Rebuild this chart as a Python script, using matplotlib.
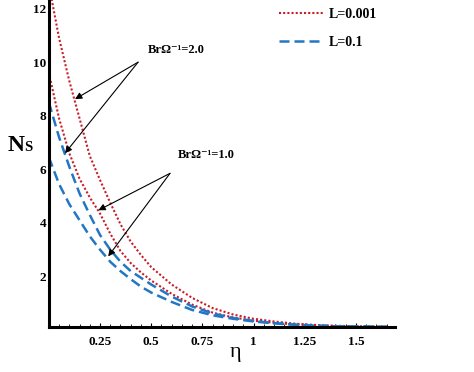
import numpy as np
from matplotlib import pyplot as plt
from matplotlib.ticker import MultipleLocator

eta = [0, 0.05, 0.1, 0.15, 0.2, 0.25, 0.3, 0.35, 0.4, 0.45, 0.5, 0.6, 0.7, 0.8,
       0.9, 1.0, 1.1, 1.2, 1.3, 1.4, 1.5, 1.6, 1.65]

# L=0.001 (red dotted)
ns_L001_br2 = [12.9, 10.9, 9.3, 7.9, 6.5, 5.6, 4.75, 3.95, 3.3, 2.8, 2.35, 1.7, 1.2,
               0.82, 0.58, 0.42, 0.32, 0.24, 0.19, 0.16, 0.14, 0.13, 0.12]
ns_L001_br1 = [9.6, 7.9, 6.6, 5.65, 4.95, 4.35, 3.6, 2.95, 2.5, 2.15, 1.85, 1.35, 0.95,
               0.65, 0.47, 0.35, 0.27, 0.21, 0.17, 0.15, 0.13, 0.12, 0.12]
# L=0.1 (blue dashed)
ns_L01_br2 = [8.5, 7.2, 6.1, 5.1, 4.3, 3.55, 3.0, 2.55, 2.2, 1.95, 1.7, 1.25, 0.88,
              0.62, 0.45, 0.34, 0.26, 0.2, 0.16, 0.14, 0.13, 0.12, 0.12]
ns_L01_br1 = [6.45, 5.45, 4.7, 4.1, 3.5, 3.0, 2.55, 2.2, 1.9, 1.62, 1.4, 1.05, 0.75,
              0.55, 0.42, 0.32, 0.25, 0.2, 0.16, 0.14, 0.13, 0.12, 0.12]

x_ticks = [0.25, 0.5, 0.75, 1, 1.25, 1.5]
x_tick_labels = ['0.25', '0.5', '0.75', '1', '1.25', '1.5']
y_ticks = [2, 4, 6, 8, 10, 12]

# annotation tips (eta, Ns)
br2_origin = (0.436, 10.0)
br2_tips = [(0.128, 8.62), (0.079, 6.60)]
br1_origin = (0.592, 5.85)
br1_tips = [(0.242, 4.47), (0.29, 2.75)]

red = '#c81e28'
blue = '#2277c4'
serif = ['Liberation Serif', 'DejaVu Serif']

fig = plt.figure(figsize=(4.74, 3.72), dpi=100)
ax = fig.add_axes([0.103, 0.12, 0.73, 0.88])

ax.plot(eta, ns_L001_br2, color=red, lw=1.5, linestyle=(0, (1, 1)), label='L=0.001')
ax.plot(eta, ns_L001_br1, color=red, lw=1.5, linestyle=(0, (1, 1)))
ax.plot(eta, ns_L01_br2, color=blue, lw=1.8, linestyle=(0, (4, 2)), label='L=0.1')
ax.plot(eta, ns_L01_br1, color=blue, lw=1.8, linestyle=(0, (4, 2)))

ax.set_xlim(0, 1.69)
ax.set_ylim(0.1, 12.32)

for s in ['top', 'right']:
    ax.spines[s].set_visible(False)
for s in ['left', 'bottom']:
    ax.spines[s].set_linewidth(2.2)

ax.set_xticks(x_ticks)
ax.set_xticklabels(x_tick_labels)
ax.xaxis.set_minor_locator(MultipleLocator(0.05))
ax.set_yticks(y_ticks)
ax.tick_params(axis='x', which='major', direction='in', length=3, width=0.8, pad=6)
ax.tick_params(axis='x', which='minor', direction='in', length=2, width=0.6)
ax.tick_params(axis='y', length=0, pad=2)
for lab in ax.get_xticklabels() + ax.get_yticklabels():
    lab.set_family(serif)
    lab.set_fontweight('bold')
    lab.set_fontsize(9.5)

# axis labels
fig.text(8 / 474, (372 - 151) / 372, 'N', family=serif, fontweight='bold',
         fontsize=17, va='baseline', ha='left')
fig.text(24 / 474, (372 - 151) / 372, 'S', family=serif, fontweight='bold',
         fontsize=10.5, va='baseline', ha='left')
fig.text(235 / 474, (372 - 352) / 372, 'η', family=serif, fontsize=16,
         ha='center', va='center')

# annotations
ax.text(0.62, 10.45, 'BrΩ⁻¹=2.0', family=serif, fontweight='bold', fontsize=9,
        ha='center', va='center')
ax.text(0.77, 6.52, 'BrΩ⁻¹=1.0', family=serif, fontweight='bold', fontsize=9,
        ha='center', va='center')
for tip in br2_tips:
    ax.annotate('', xy=tip, xytext=br2_origin,
                arrowprops=dict(arrowstyle='-|>', color='black', lw=0.8,
                                mutation_scale=10, shrinkA=0, shrinkB=0))
for tip in br1_tips:
    ax.annotate('', xy=tip, xytext=br1_origin,
                arrowprops=dict(arrowstyle='-|>', color='black', lw=0.8,
                                mutation_scale=10, shrinkA=0, shrinkB=0))

leg = ax.legend(loc='upper left', bbox_to_anchor=(273 / 474, 1 - 2 / 372),
                bbox_transform=fig.transFigure, frameon=False, handlelength=3.3,
                labelspacing=1.1, handletextpad=0.3, borderaxespad=0.0,
                prop=dict(family=serif, weight='bold', size=10))

fig.savefig('out.png', dpi=100)
